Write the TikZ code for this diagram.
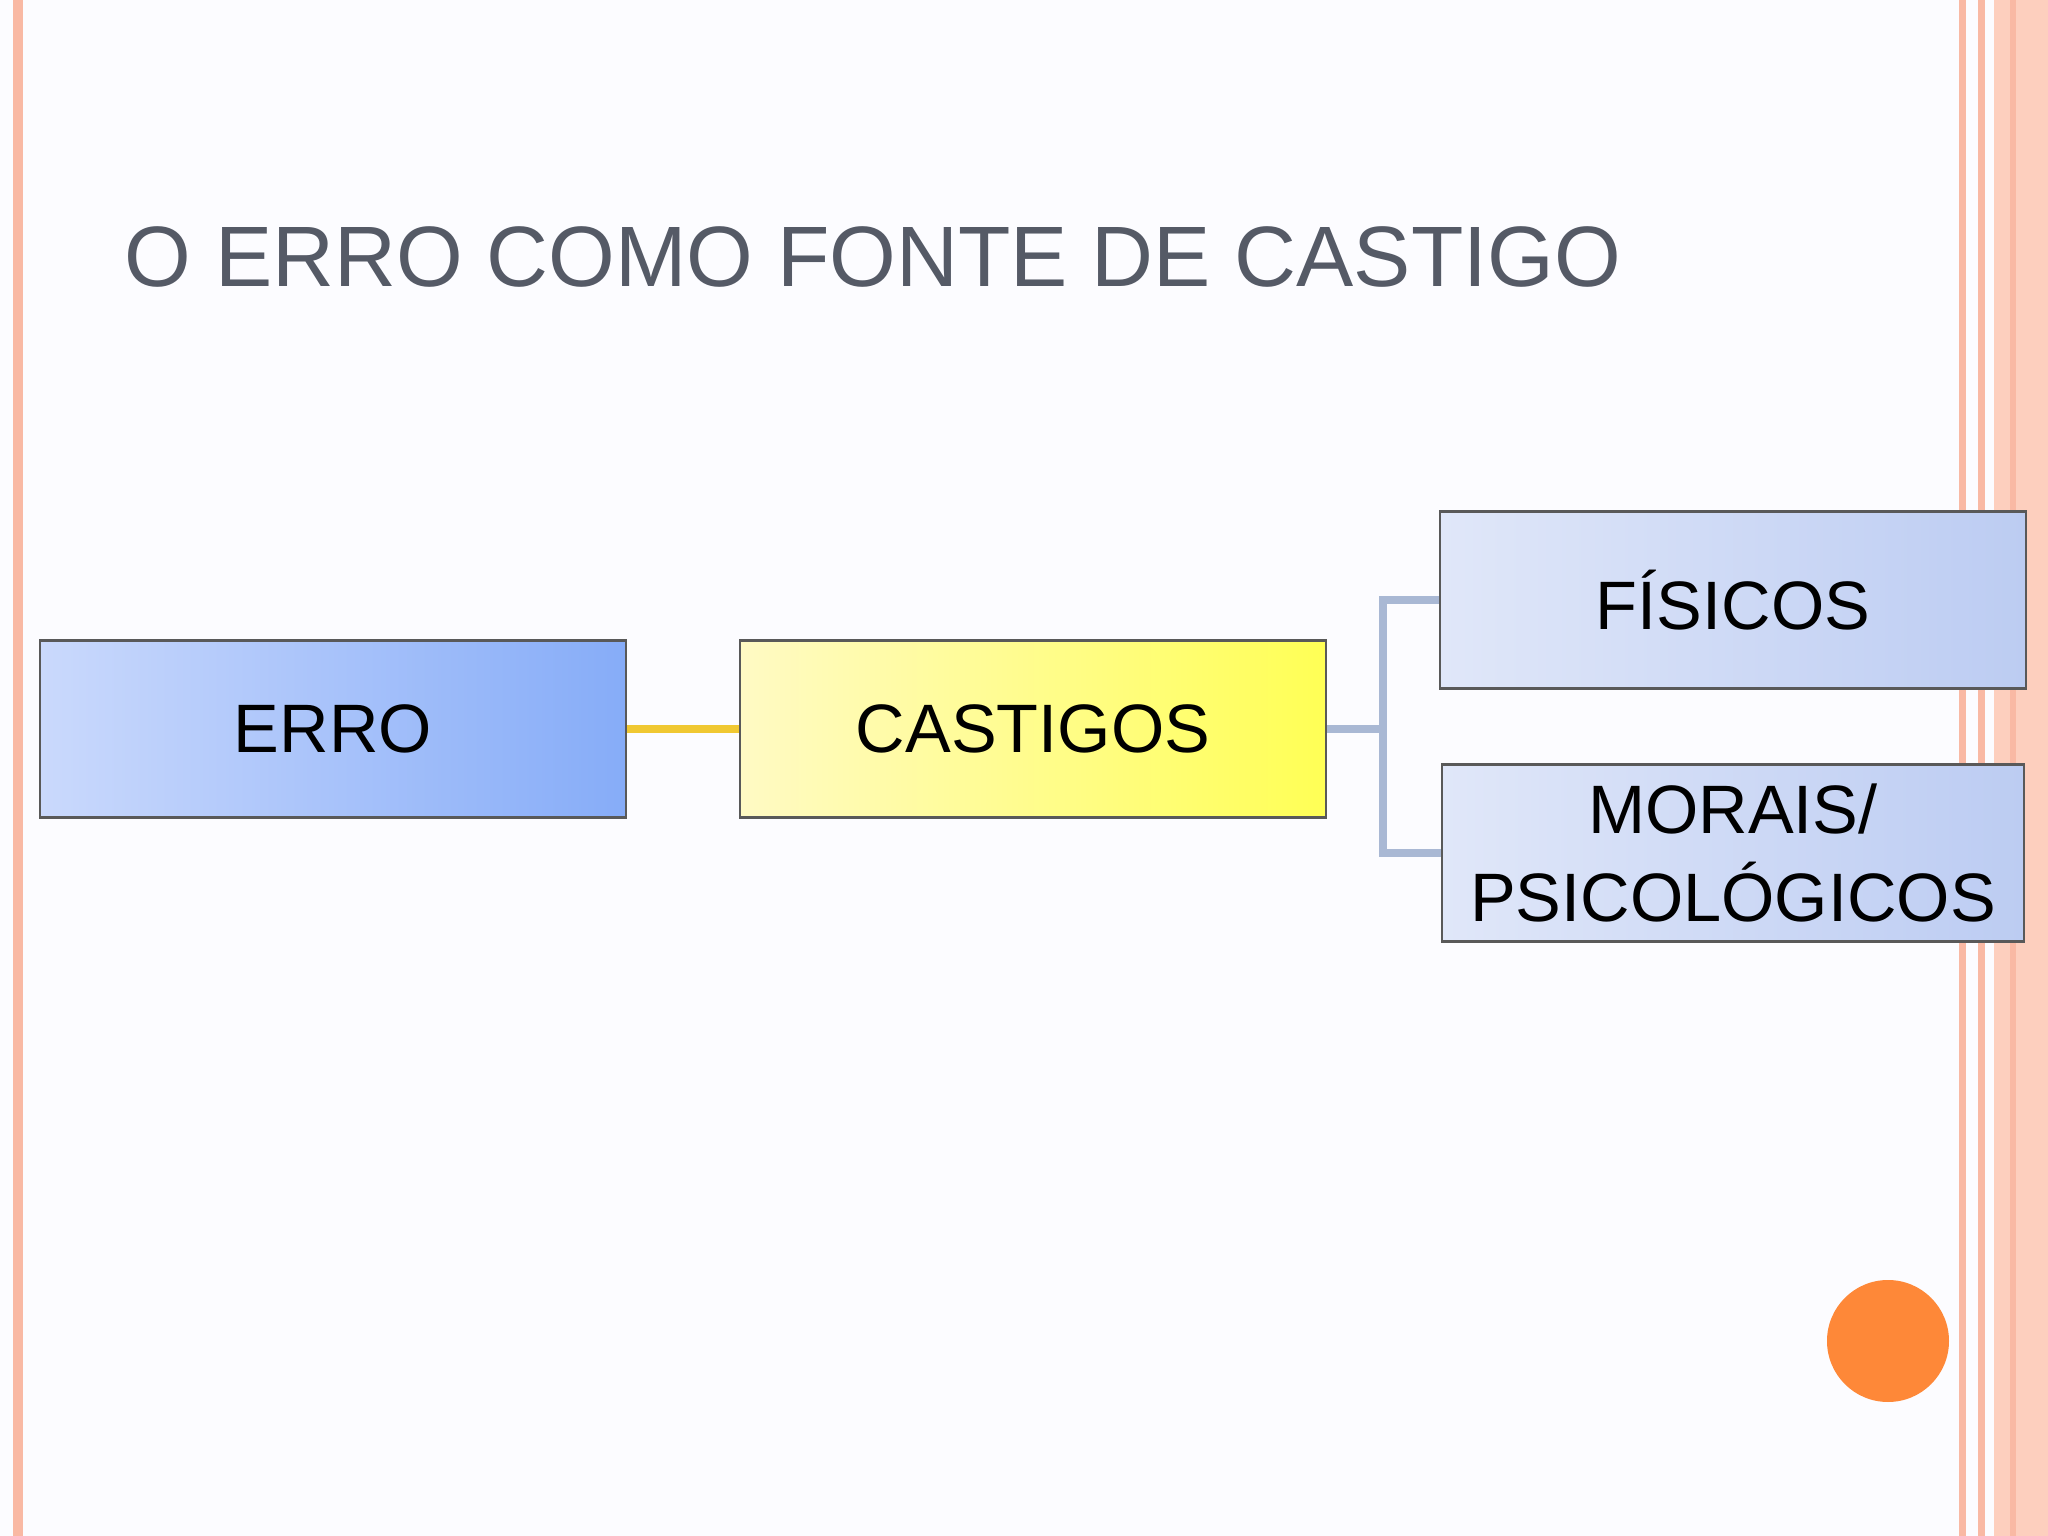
\documentclass[tikz,border=0pt]{standalone}
\usepackage{fontspec}
\setmainfont{Liberation Sans}
\usetikzlibrary{positioning}
\definecolor{titlegray}{HTML}{555A66}
\definecolor{stripe}{HTML}{F9B9A4}
\definecolor{peach}{HTML}{FDCFBE}
\definecolor{dot}{HTML}{FE8838}
\definecolor{bracketblue}{HTML}{A9B8D4}
\definecolor{linkyellow}{HTML}{F0C832}
\definecolor{erroleft}{HTML}{CAD9FC}
\definecolor{erroright}{HTML}{86ACF8}
\definecolor{castleft}{HTML}{FFFAC4}
\definecolor{castright}{HTML}{FFFF55}
\definecolor{subleft}{HTML}{E0E7F9}
\definecolor{subright}{HTML}{BCCCF2}
\tikzset{
  catbox/.style={draw=gray!70!black, line width=0.8pt, minimum width=5.86cm,
    minimum height=1.77cm, align=center, font=\fontsize{19.5}{25}\selectfont},
}
\begin{document}
\begin{tikzpicture}
  \useasboundingbox (0,0) rectangle (20.48,-15.36);
  \fill[white!99!blue] (0,0) rectangle (20.48,-15.36);
  % borders
  \fill[stripe] (0.13,0) rectangle (0.23,-15.36);
  \fill[stripe] (19.59,0) rectangle (19.66,-15.36);
  \fill[stripe] (19.78,0) rectangle (19.85,-15.36);
  \fill[peach] (19.94,0) rectangle (20.48,-15.36);
  \fill[stripe] (20.10,0) rectangle (20.16,-15.36);

  % title
  \node[anchor=base west, text=titlegray, inner sep=0pt,
        font=\fontsize{24.4}{29}\selectfont] (title) at (1.24,-2.87)
        {O ERRO COMO FONTE DE CASTIGO};

  % boxes
  \node[catbox, left color=erroleft, right color=erroright]
    (erro) at (3.33,-7.29) {ERRO};
  \node[catbox, left color=castleft, right color=castright]
    (castigos) at (10.33,-7.29) {CASTIGOS};
  \node[catbox, left color=subleft, right color=subright]
    (fisicos) at (17.33,-6.00) {FÍSICOS};
  \node[catbox, minimum width=5.82cm, left color=subleft, right color=subright]
    (morais) at (17.33,-8.53) {MORAIS/\\PSICOLÓGICOS};

  % connectors
  \draw[linkyellow, line width=2.5pt] (erro.east) -- (castigos.west);
  \coordinate (fork) at (13.83,-7.29);
  \draw[bracketblue, line width=2.5pt] (castigos.east) -- (fork)
    (fisicos.west) -| (fork) |- (morais.west);

  % dot
  \fill[dot] (18.88,-13.41) circle (0.61);
\end{tikzpicture}
\end{document}
